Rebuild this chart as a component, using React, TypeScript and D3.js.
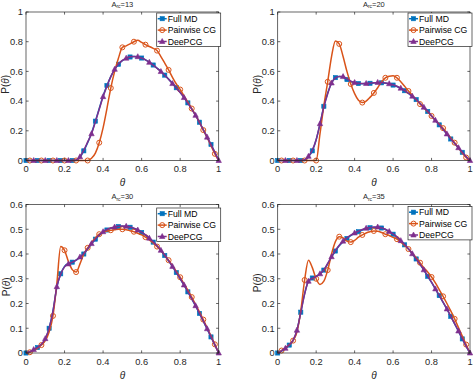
import React from "react";
import * as d3 from "d3";

const theta = [0,0.02,0.04,0.06,0.08,0.1,0.12,0.14,0.16,0.18,0.2,0.22,0.24,0.26,0.28,0.3,0.32,0.34,0.36,0.38,0.4,0.42,0.44,0.46,0.48,0.5,0.52,0.54,0.56,0.58,0.6,0.62,0.64,0.66,0.68,0.7,0.72,0.74,0.76,0.78,0.8,0.82,0.84,0.86,0.88,0.9,0.92,0.94,0.96,0.98,1];

const seriesNames = ["Full MD", "Pairwise CG", "DeePCG"];
const titles = ["13", "20", "30", "35"];
const xTicks = [0, 0.2, 0.4, 0.6, 0.8, 1];
const yTicksTop = [0, 0.2, 0.4, 0.6, 0.8, 1];
const yTicksBottom = [0, 0.1, 0.2, 0.3, 0.4, 0.5, 0.6];

const md13 = [0,0,0,0,0,0,0,0,0,0,0,0,0,0,0.02,0.065,0.12,0.185,0.265,0.35,0.435,0.505,0.565,0.612,0.648,0.672,0.688,0.697,0.7,0.698,0.69,0.678,0.662,0.643,0.622,0.6,0.575,0.548,0.52,0.49,0.46,0.425,0.388,0.348,0.305,0.258,0.208,0.158,0.108,0.055,0];
const cg13 = [0,0,0,0,0,0,0,0,0,0,0,0,0,0,0,0,0,0.015,0.05,0.12,0.22,0.35,0.488,0.6,0.69,0.762,0.772,0.785,0.8,0.81,0.795,0.78,0.768,0.755,0.74,0.7,0.655,0.61,0.56,0.515,0.478,0.435,0.393,0.35,0.305,0.258,0.205,0.155,0.1,0.045,0];
const dp13 = [0,0,0,0,0,0,0,0,0,0,0,0,0,0.003,0.025,0.07,0.125,0.18,0.26,0.345,0.43,0.5,0.565,0.614,0.65,0.674,0.689,0.698,0.701,0.699,0.69,0.677,0.661,0.642,0.621,0.599,0.574,0.547,0.518,0.488,0.458,0.424,0.386,0.346,0.304,0.257,0.207,0.157,0.107,0.054,0];

const md20 = [0,0,0,0,0,0,0,0,0.025,0.065,0.14,0.245,0.365,0.455,0.52,0.558,0.565,0.56,0.545,0.532,0.523,0.518,0.517,0.518,0.52,0.522,0.524,0.523,0.52,0.515,0.508,0.498,0.485,0.47,0.452,0.432,0.41,0.385,0.358,0.33,0.3,0.27,0.24,0.21,0.178,0.145,0.115,0.085,0.055,0.025,0];
const cg20 = [0,0,0,0,0,0,0,0,0,0,0,0.18,0.37,0.53,0.7,0.805,0.785,0.7,0.6,0.515,0.45,0.405,0.39,0.4,0.425,0.455,0.49,0.53,0.557,0.568,0.57,0.557,0.53,0.5,0.468,0.44,0.41,0.38,0.355,0.328,0.3,0.27,0.245,0.218,0.185,0.152,0.12,0.085,0.05,0.02,0];
const dp20 = [0,0,0,0,0,0,0,0.005,0.028,0.07,0.14,0.248,0.36,0.45,0.522,0.556,0.566,0.565,0.55,0.535,0.525,0.52,0.518,0.519,0.521,0.523,0.526,0.525,0.522,0.517,0.51,0.5,0.487,0.471,0.453,0.433,0.411,0.386,0.359,0.331,0.301,0.271,0.241,0.211,0.179,0.146,0.116,0.086,0.056,0.026,0];

const md30 = [0,0.005,0.013,0.022,0.033,0.055,0.1,0.17,0.265,0.32,0.35,0.362,0.367,0.375,0.387,0.4,0.42,0.44,0.46,0.475,0.488,0.497,0.504,0.508,0.511,0.512,0.511,0.508,0.503,0.496,0.487,0.476,0.463,0.448,0.432,0.414,0.394,0.372,0.349,0.325,0.3,0.274,0.247,0.219,0.19,0.16,0.129,0.097,0.065,0.032,0];
const cg30 = [0,0.003,0.01,0.02,0.032,0.05,0.085,0.15,0.28,0.43,0.415,0.37,0.337,0.327,0.36,0.4,0.425,0.447,0.465,0.48,0.488,0.493,0.496,0.498,0.5,0.5,0.498,0.494,0.49,0.484,0.477,0.468,0.457,0.445,0.43,0.414,0.395,0.375,0.353,0.33,0.306,0.28,0.254,0.226,0.196,0.166,0.135,0.102,0.069,0.035,0];
const dp30 = [0,0.006,0.014,0.023,0.035,0.058,0.1,0.168,0.268,0.318,0.348,0.36,0.366,0.375,0.388,0.402,0.422,0.442,0.461,0.477,0.49,0.499,0.505,0.509,0.512,0.513,0.512,0.509,0.504,0.497,0.488,0.477,0.464,0.449,0.433,0.415,0.395,0.373,0.35,0.326,0.301,0.275,0.248,0.22,0.191,0.161,0.13,0.098,0.066,0.033,0];

const md35 = [0,0.008,0.018,0.032,0.05,0.09,0.165,0.24,0.29,0.303,0.31,0.32,0.335,0.36,0.387,0.412,0.433,0.45,0.463,0.474,0.483,0.49,0.497,0.503,0.506,0.507,0.507,0.505,0.499,0.49,0.48,0.468,0.453,0.437,0.42,0.4,0.38,0.358,0.335,0.31,0.285,0.258,0.232,0.205,0.177,0.148,0.118,0.088,0.057,0.027,0];
const cg35 = [0,0.01,0.02,0.033,0.05,0.085,0.17,0.295,0.375,0.345,0.3,0.277,0.29,0.335,0.4,0.45,0.47,0.465,0.452,0.448,0.455,0.468,0.477,0.485,0.49,0.493,0.492,0.487,0.48,0.475,0.467,0.46,0.448,0.435,0.42,0.403,0.385,0.365,0.345,0.327,0.307,0.283,0.256,0.229,0.2,0.17,0.138,0.103,0.068,0.034,0];
const dp35 = [0,0.009,0.019,0.033,0.052,0.092,0.163,0.238,0.29,0.302,0.309,0.32,0.336,0.362,0.389,0.414,0.435,0.452,0.465,0.476,0.485,0.492,0.499,0.504,0.507,0.509,0.509,0.506,0.5,0.491,0.481,0.469,0.454,0.438,0.421,0.401,0.381,0.359,0.336,0.311,0.286,0.259,0.233,0.206,0.178,0.149,0.119,0.089,0.058,0.028,0];

const COLORS = ["#0072BD", "#D95319", "#7E2F8E"];
const FONT = "'Liberation Sans', Arial, Helvetica, sans-serif";
const AX = "#262626";
const TICK_FS = 9.3;
const LEG_FS = 8.7;

const panelData = [
  { title: titles[0], series: [md13, cg13, dp13], yTicks: yTicksTop, yMax: 1 },
  { title: titles[1], series: [md20, cg20, dp20], yTicks: yTicksTop, yMax: 1 },
  { title: titles[2], series: [md30, cg30, dp30], yTicks: yTicksBottom, yMax: 0.6 },
  { title: titles[3], series: [md35, cg35, dp35], yTicks: yTicksBottom, yMax: 0.6 },
];

const layout = [
  { x0: 26, x1: 218.7, y0: 12, y1: 160.5, ylabX: 5, ylabDy: -2, legDy: 1 },
  { x0: 277.7, x1: 470, y0: 12, y1: 160.5, ylabX: 257, ylabDy: -2, legDy: 1 },
  { x0: 26, x1: 218.7, y0: 204.5, y1: 353, ylabX: 6, ylabDy: 8, legDy: 3.5 },
  { x0: 277.7, x1: 470, y0: 204.5, y1: 353, ylabX: 257, ylabDy: 4, legDy: 2 },
];

function Marker({ kind, x, y, color }: { kind: number; x: number; y: number; color: string }) {
  if (kind === 0) {
    const s = 4.2;
    return <rect x={x - s / 2} y={y - s / 2} width={s} height={s} fill={color} stroke={color} strokeWidth={0.6} />;
  }
  if (kind === 1) {
    return <circle cx={x} cy={y} r={2.5} fill="none" stroke={color} strokeWidth={1} />;
  }
  const h = 5.0;
  const w = 5.4;
  return (
    <path
      d={`M${x},${y - h * 0.6} L${x + w / 2},${y + h * 0.4} L${x - w / 2},${y + h * 0.4} Z`}
      fill={color}
      stroke={color}
      strokeWidth={0.6}
    />
  );
}

function fmt(v: number) {
  return String(+v.toFixed(1));
}

function Panel({ idx }: { idx: number }) {
  const p = panelData[idx];
  const L = layout[idx];
  const x = d3.scaleLinear().domain([0, 1]).range([L.x0, L.x1]);
  const y = d3.scaleLinear().domain([0, p.yMax]).range([L.y1, L.y0]);
  const line = d3
    .line<number>()
    .x((_, i) => x(theta[i]))
    .y((d) => y(d))
    .curve(d3.curveMonotoneX);
  const tl = 2.6;
  const cx = (L.x0 + L.x1) / 2;
  const cy = (L.y0 + L.y1) / 2;
  const legX = L.x1 - 62;
  const legY = L.y0 + L.legDy;
  const legW = 64;
  const legH = 33.4;
  return (
    <g>
      <rect x={L.x0} y={L.y0} width={L.x1 - L.x0} height={L.y1 - L.y0} fill="#fff" />
      <text x={cx} y={L.y0 - 5.5} textAnchor="middle" fontFamily={FONT} fontSize={7.5} fill={AX}>
        A<tspan fontSize={5} dy={1.8}>rc</tspan>
        <tspan dy={-1.8}>={p.title}</tspan>
      </text>
      {p.series.map((s, si) => (
        <g key={si}>
          <path d={line(s) || ""} fill="none" stroke={COLORS[si]} strokeWidth={1.5} />
          {s.map((v, i) =>
            i % 3 === si ? <Marker key={i} kind={si} x={x(theta[i])} y={y(v)} color={COLORS[si]} /> : null
          )}
        </g>
      ))}
      <rect x={L.x0} y={L.y0} width={L.x1 - L.x0} height={L.y1 - L.y0} fill="none" stroke={AX} strokeWidth={0.7} />
      {xTicks.map((t) => (
        <g key={"x" + t}>
          <line x1={x(t)} x2={x(t)} y1={L.y1} y2={L.y1 - tl} stroke={AX} strokeWidth={0.7} />
          <line x1={x(t)} x2={x(t)} y1={L.y0} y2={L.y0 + tl} stroke={AX} strokeWidth={0.7} />
          <text x={x(t)} y={L.y1 + 11.5} textAnchor="middle" fontFamily={FONT} fontSize={TICK_FS} fill={AX}>
            {fmt(t)}
          </text>
        </g>
      ))}
      {p.yTicks.map((t) => (
        <g key={"y" + t}>
          <line x1={L.x0} x2={L.x0 + tl} y1={y(t)} y2={y(t)} stroke={AX} strokeWidth={0.7} />
          <line x1={L.x1} x2={L.x1 - tl} y1={y(t)} y2={y(t)} stroke={AX} strokeWidth={0.7} />
          <text x={L.x0 - 3} y={y(t) + 3.3} textAnchor="end" fontFamily={FONT} fontSize={TICK_FS} fill={AX}>
            {fmt(t)}
          </text>
        </g>
      ))}
      <text x={cx} y={L.y1 + 25.5} textAnchor="middle" fontFamily={FONT} fontSize={10} fontStyle="italic" fill={AX}>
        θ
      </text>
      <text
        transform={`translate(${L.ylabX},${cy + L.ylabDy}) rotate(-90)`}
        textAnchor="middle"
        fontFamily={FONT}
        fontSize={10}
        fill={AX}
        dy={3.5}
      >
        P(<tspan fontStyle="italic">θ</tspan>)
      </text>
      <rect x={legX} y={legY} width={legW} height={legH} fill="#fff" stroke={AX} strokeWidth={0.7} />
      {seriesNames.map((n, si) => {
        const ry = legY + 5.7 + si * 11.4;
        return (
          <g key={n}>
            <line x1={legX + 1} x2={legX + 10} y1={ry} y2={ry} stroke={COLORS[si]} strokeWidth={1.5} />
            <Marker kind={si} x={legX + 5.5} y={ry} color={COLORS[si]} />
            <text x={legX + 11} y={ry + 3.1} fontFamily={FONT} fontSize={LEG_FS} fill="#000">
              {n}
            </text>
          </g>
        );
      })}
    </g>
  );
}

export default function App() {
  return (
    <svg
      width={474}
      height={379}
      viewBox="0 0 474 379"
      style={{ position: "absolute", left: 0, top: 0, background: "#fff" }}
    >
      <rect x={0} y={0} width={474} height={379} fill="#fff" />
      {[0, 1, 2, 3].map((i) => (
        <Panel key={i} idx={i} />
      ))}
    </svg>
  );
}
